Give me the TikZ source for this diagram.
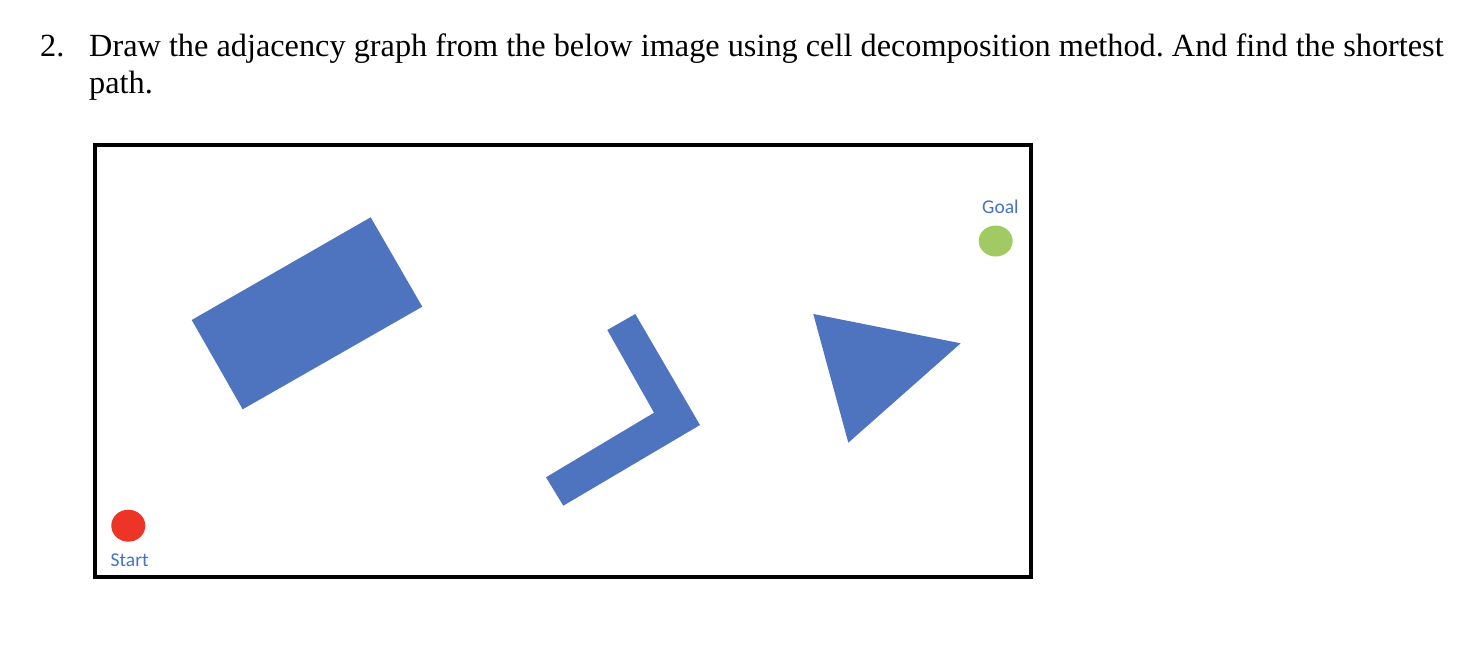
\documentclass[tikz,border=0pt]{standalone}
\usepackage{fontspec}
\setmainfont{Liberation Serif}
\newfontfamily\calib{Carlito}
\definecolor{obst}{RGB}{78,116,192}
\definecolor{lbl}{RGB}{68,114,196}
\definecolor{startc}{RGB}{236,53,38}
\definecolor{goalc}{RGB}{161,203,98}
\frenchspacing
\begin{document}
\begin{tikzpicture}[x=1pt,y=-1pt,
  title/.style={anchor=base west,inner sep=0pt,font=\fontsize{32.3}{39}\selectfont},
  lab/.style={anchor=base west,inner sep=0pt,text=lbl,font=\calib\fontsize{19.5}{23}\selectfont},
  obstacle/.style={fill=obst,draw=none}]
\useasboundingbox (0,0) rectangle (1460,654);
\node[title] (num) at (40,56) {2.};
\node[title] (l1) at (89,56) {Draw the adjacency graph from the below image using cell decomposition method. And find the shortest};
\node[title] (l2) at (89,93) {path.};
\draw[line width=4.6] (95,145) rectangle (1031,577);
\fill[obstacle] (370.7,217.3) -- (422.3,306.7) -- (242.7,409.3) -- (191.7,320) -- cycle;
\fill[obstacle] (607.3,330) -- (635.3,314) -- (700,425) -- (563.3,505.7) -- (546,477.3) -- (654,412.7) -- cycle;
\fill[obstacle] (813.3,314) -- (960.7,343.3) -- (848.3,442.7) -- cycle;
\fill[startc] (128.3,525.7) ellipse [x radius=17, y radius=16];
\fill[goalc] (995.7,241) ellipse [x radius=17, y radius=15.5];
\node[lab] (start) at (110.5,566) {Start};
\node[lab] (goal) at (982,213) {Goal};
\end{tikzpicture}
\end{document}
